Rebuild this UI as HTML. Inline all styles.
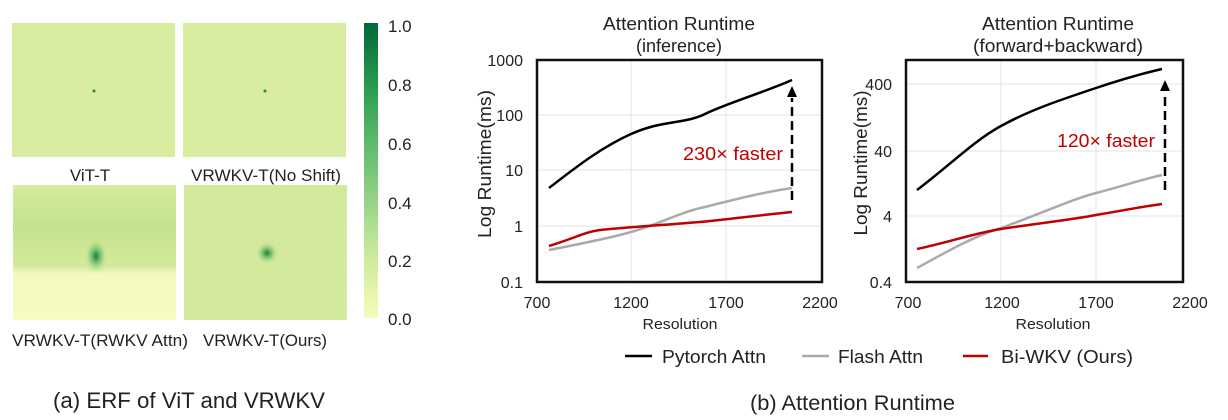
<!DOCTYPE html>
<html><head><meta charset="utf-8"><style>
body{margin:0;background:#fff;width:1228px;height:415px;overflow:hidden}
svg text{font-family:"Liberation Sans",sans-serif}
</style></head><body>
<svg width="1228" height="415" viewBox="0 0 1228 415" xmlns="http://www.w3.org/2000/svg">
<defs>
<radialGradient id="g1" cx="0.5" cy="0.5" r="0.5"><stop offset="0" stop-color="#1d7f3e"/><stop offset="0.25" stop-color="#5aae5c"/><stop offset="1" stop-color="#d2eaa0" stop-opacity="0"/></radialGradient>
<linearGradient id="rw" x1="0" y1="0" x2="0" y2="1"><stop offset="0" stop-color="#d6ec9e"/><stop offset="0.3" stop-color="#c4e38e"/><stop offset="0.6" stop-color="#d2ea9c"/><stop offset="0.66" stop-color="#f4f9c0"/><stop offset="1" stop-color="#f8fbc4"/></linearGradient>
<linearGradient id="cb" x1="0" y1="1" x2="0" y2="0"><stop offset="0" stop-color="#f7fcb9"/><stop offset="0.25" stop-color="#c2e699"/><stop offset="0.5" stop-color="#78c679"/><stop offset="0.75" stop-color="#31a354"/><stop offset="1" stop-color="#006837"/></linearGradient>
</defs>
<rect x="12" y="23" width="163" height="134" fill="#d8ed9f"/>
<circle cx="94" cy="91" r="1.5" fill="#1d8a3e"/>
<rect x="183" y="23" width="163" height="134" fill="#d8ed9f"/>
<circle cx="265" cy="91" r="1.5" fill="#1d8a3e"/>
<rect x="13" y="185" width="163" height="135" fill="url(#rw)"/>
<ellipse cx="96" cy="256" rx="12" ry="18" fill="url(#g1)"/>
<rect x="184" y="185" width="163" height="135" fill="#d3ea9c"/>
<circle cx="267" cy="253" r="12" fill="url(#g1)"/>
<rect x="364" y="23" width="14" height="295" fill="url(#cb)"/>
<g font-size="17" fill="#222">
<text x="388" y="32">1.0</text><text x="388" y="91">0.8</text><text x="388" y="150">0.6</text><text x="388" y="209">0.4</text><text x="388" y="267">0.2</text><text x="388" y="325">0.0</text>
<text x="90" y="181" text-anchor="middle">ViT-T</text>
<text x="266" y="181" text-anchor="middle" textLength="150" lengthAdjust="spacingAndGlyphs">VRWKV-T(No Shift)</text>
<text x="100" y="346" text-anchor="middle" textLength="176" lengthAdjust="spacingAndGlyphs">VRWKV-T(RWKV Attn)</text>
<text x="265" y="346" text-anchor="middle" textLength="124" lengthAdjust="spacingAndGlyphs">VRWKV-T(Ours)</text>
<text x="189" y="408" text-anchor="middle" font-size="22" textLength="272" lengthAdjust="spacingAndGlyphs">(a) ERF of ViT and VRWKV</text>
</g>
<g stroke="#e3e3e3" stroke-width="1">
<line x1="631" y1="60" x2="631" y2="282"/><line x1="726" y1="60" x2="726" y2="282"/>
<line x1="537" y1="115" x2="822" y2="115"/><line x1="537" y1="170" x2="822" y2="170"/><line x1="537" y1="226" x2="822" y2="226"/>
<line x1="1001" y1="60" x2="1001" y2="282"/><line x1="1096" y1="60" x2="1096" y2="282"/>
<line x1="906" y1="84" x2="1183" y2="84"/><line x1="906" y1="151" x2="1183" y2="151"/><line x1="906" y1="216" x2="1183" y2="216"/>
</g>
<rect x="537" y="60" width="285" height="222" fill="none" stroke="#111" stroke-width="2.5"/>
<rect x="906" y="60" width="277" height="222" fill="none" stroke="#111" stroke-width="2.5"/>
<g fill="none" stroke-width="2.5">
<path d="M549,188 C575,168 600,148 631,134 S685,124 705,114 S765,92 792,80" stroke="#000"/>
<path d="M549,250 C580,244 610,238 631,232 C660,224 680,212 705,207 C740,198 765,192 792,188" stroke="#aaa"/>
<path d="M549,246 C575,238 585,232 600,230 C631,227 650,226 700,222 C740,218 770,214 792,212" stroke="#c00000"/>
<path d="M917,190 C950,165 975,140 1001,126 C1030,110 1060,100 1096,88 C1120,80 1140,74 1162,69" stroke="#000"/>
<path d="M917,268 C950,250 970,238 1001,228 C1040,214 1070,200 1096,193 C1120,187 1140,180 1162,175" stroke="#aaa"/>
<path d="M917,249 C950,242 975,233 1001,229 C1040,223 1070,220 1096,215 C1120,211 1140,207 1162,204" stroke="#c00000"/>
<line x1="792" y1="200" x2="792" y2="98" stroke="#000" stroke-dasharray="9,5"/>
<line x1="1165" y1="190" x2="1165" y2="92" stroke="#000" stroke-dasharray="9,5"/>
</g>
<polygon points="792,86 787,97 797,97" fill="#000"/>
<polygon points="1165,80 1160,91 1170,91" fill="#000"/>
<g font-size="16" fill="#222">
<text x="679" y="30" text-anchor="middle" font-size="18" textLength="152" lengthAdjust="spacingAndGlyphs">Attention Runtime</text>
<text x="679" y="52" text-anchor="middle" font-size="18">(inference)</text>
<text x="1058" y="30" text-anchor="middle" font-size="18" textLength="152" lengthAdjust="spacingAndGlyphs">Attention Runtime</text>
<text x="1058" y="52" text-anchor="middle" font-size="18" textLength="170" lengthAdjust="spacingAndGlyphs">(forward+backward)</text>
<g text-anchor="end"><text x="523" y="66">1000</text><text x="523" y="121">100</text><text x="523" y="176">10</text><text x="523" y="232">1</text><text x="523" y="288">0.1</text>
<text x="892" y="90">400</text><text x="892" y="157">40</text><text x="892" y="222">4</text><text x="892" y="288">0.4</text></g>
<g text-anchor="middle"><text x="537" y="308">700</text><text x="631" y="308">1200</text><text x="726" y="308">1700</text><text x="820" y="308">2200</text>
<text x="908" y="308">700</text><text x="1002" y="308">1200</text><text x="1096" y="308">1700</text><text x="1190" y="308">2200</text>
<text x="680" y="329" font-size="15" textLength="75" lengthAdjust="spacingAndGlyphs">Resolution</text><text x="1053" y="329" font-size="15" textLength="75" lengthAdjust="spacingAndGlyphs">Resolution</text></g>
<text x="0" y="0" transform="translate(491,164) rotate(-90)" text-anchor="middle" font-size="18" textLength="148" lengthAdjust="spacingAndGlyphs">Log Runtime(ms)</text>
<text x="0" y="0" transform="translate(867,163) rotate(-90)" text-anchor="middle" font-size="18" textLength="145" lengthAdjust="spacingAndGlyphs">Log Runtime(ms)</text>
<text x="683" y="160" font-size="18" fill="#c00000" textLength="100" lengthAdjust="spacingAndGlyphs">230× faster</text>
<text x="1057" y="147" font-size="18" fill="#c00000" textLength="98" lengthAdjust="spacingAndGlyphs">120× faster</text>
<text x="662" y="363" font-size="18" textLength="104" lengthAdjust="spacingAndGlyphs">Pytorch Attn</text>
<text x="838" y="363" font-size="18" textLength="85" lengthAdjust="spacingAndGlyphs">Flash Attn</text>
<text x="1001" y="363" font-size="18" textLength="132" lengthAdjust="spacingAndGlyphs">Bi-WKV (Ours)</text>
<text x="750" y="410" font-size="21" textLength="205" lengthAdjust="spacingAndGlyphs">(b) Attention Runtime</text>
</g>
<line x1="625" y1="356" x2="652" y2="356" stroke="#000" stroke-width="2.5"/>
<line x1="802" y1="356" x2="829" y2="356" stroke="#aaa" stroke-width="2.5"/>
<line x1="963" y1="356" x2="988" y2="356" stroke="#c00000" stroke-width="2.5"/>
</svg>
</body></html>
